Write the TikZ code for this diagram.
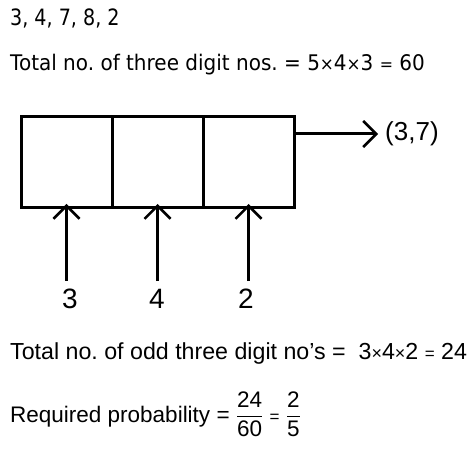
\documentclass[tikz,border=0pt]{standalone}
\usepackage{fontspec}
\setmainfont{Liberation Sans}
\newfontfamily\verd{DejaVu Sans}
\usepackage{amsmath}
\usetikzlibrary{arrows, arrows.meta, positioning}
\frenchspacing

\newcommand{\tms}{{\fontsize{18}{18}\selectfont×}}
\newcommand{\seq}{{\fontsize{17}{17}\selectfont=}}

\begin{document}
\begin{tikzpicture}[x=1pt,y=-1pt,node distance=0pt,auto]
    \tikzstyle{cell}=[shape=rectangle,draw,line width=3pt,minimum size=91pt,inner sep=0pt,outer sep=0pt]
    \tikzstyle{line}=[anchor=base west,inner sep=0pt,font=\fontsize{22.5}{26}\selectfont]
    \tikzstyle{digit}=[inner sep=0pt,font=\fontsize{28}{30}\selectfont]
    \tikzstyle{choice}=[-{Straight Barb[length=13pt,width=26pt,line width=2.5pt]},line width=3pt]

    \useasboundingbox (0,0) rectangle (474,449);

    % the five digits
    \node[line, font=\verd\fontsize{22.5}{24}\selectfont, xscale=0.85, transform shape] (digits) at (10,26) {3, 4, 7, 8, 2};
    \node[line, font=\verd\fontsize{21.5}{24}\selectfont, xscale=0.93, transform shape] (total) at (10,71)
        {Total no. of three digit nos. = 5\tms4\tms3 \seq\ 60};

    % three places
    \node[cell] (A) at (66.5,162.5) {};
    \node[cell, right=of A] (B) {};
    \node[cell, right=of B] (C) {};

    \node[digit, anchor=west, font=\fontsize{26}{28}\selectfont] (pair) at (385,134) {(3,7)};
    \node[digit] (n1) at (70,299) {3};
    \node[digit] (n2) at (157,299) {4};
    \node[digit] (n3) at (246,299) {2};

    \draw[choice] (C.east |- pair.west) -- ([xshift=-7pt]pair.west);
    \draw[choice] (n1.north -| A.south) ++(0,-8) -- ([yshift=4pt]A.south);
    \draw[choice] (n2.north -| B.south) ++(0,-8) -- ([yshift=4pt]B.south);
    \draw[choice] (n3.north -| C.south) ++(0,-8) -- ([yshift=4pt]C.south);

    % odd numbers and probability
    \node[line, font=\fontsize{23.2}{26}\selectfont] (odd) at (10,359)
        {Total no. of odd three digit no’s =\ \ 3\tms4\tms2 \seq\ 24};
    \node[line] (prob) at (10,422)
        {Required probability = $\dfrac{\text{24}}{\text{60}}$ \seq\ $\dfrac{\text{2}}{\text{5}}$};
\end{tikzpicture}
\end{document}
